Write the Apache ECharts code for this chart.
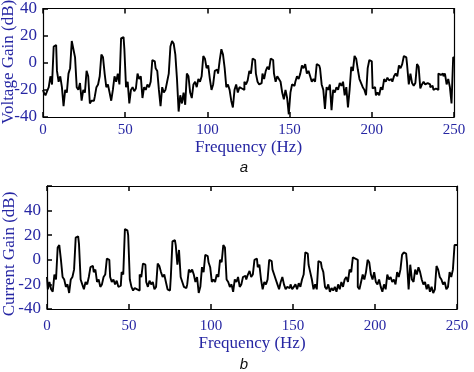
<!DOCTYPE html>
<html>
<head>
<meta charset="utf-8">
<script src="https://cdn.jsdelivr.net/npm/echarts@6/dist/echarts.min.js"></script>
<style>
html,body{margin:0;padding:0;background:#fff;}
#c{width:474px;height:372px;}
</style>
</head>
<body>
<div id="c"></div>
<script>
// Frequency axis ticks (Hz)
const freqTicks = [0, 50, 100, 150, 200, 250];
// Gain axis tick labels (dB)
const gainTicks = [-40, -20, 0, 20, 40];

// Panel a: voltage gain (dB), one value per Hz from 0 to 250
const voltageGain = [
-20,-22,-24,-21,-18,-10,-16,12,13,-6,
-14,-10,-18,-32,-20,-22,-8,-4,16,10,
4,-18,-20,-15,-28,-20,-22,-6,-10,-30,
-28,-28,-25,-18,-16,-10,6,4,-8,-18,
-16,-22,-28,-20,-10,-14,-8,-16,18,19,
10,-18,-14,-30,-20,-18,-21,-19,-8,-12,
-10,-26,-18,-20,-16,-18,-14,2,1,-4,
-6,-20,-32,-18,-22,-20,-14,-8,12,16,
14,6,-12,-36,-24,-30,-22,-31,-8,-10,
-22,-26,-16,-14,-18,-12,-14,-10,5,3,
-4,-2,-12,-20,-16,-6,-5,-8,2,10,
6,-4,-18,-16,-20,-28,-33,-20,-16,-22,
-18,-19,-20,-14,-16,-13,-6,-8,3,2,
-8,-14,-16,-15,-8,-12,-6,-3,-5,3,
2,-8,-14,-10,-12,-14,-22,-27,-20,-26,
-38,-22,-16,-17,-14,-10,-12,-8,-2,-4,
-1,-8,-6,-10,-14,-12,-14,-1,-2,-4,
-16,-20,-34,-18,-20,-16,-35,-20,-22,-18,
-20,-15,-17,-14,-24,-18,-33,-20,-3,-6,
5,3,-5,-12,-15,-18,-20,-24,-4,2,
1,-19,-18,-24,-22,-24,-18,-20,-12,-14,
-11,-13,-12,-14,-10,-8,-10,-2,-4,-1,
5,4,-2,-16,-8,-15,-17,-15,-1,-3,
-19,-16,-14,-16,-15,-16,-18,-17,-20,-19,
-20,-8,-9,-8,-10,-8,-16,-12,-18,-30,
4
];

// Panel b: current gain (dB), one value per Hz from 0 to 250
const currentGain = [
-14,-24,-18,-24,-26,-12,-16,10,12,0,
-14,-16,-22,-20,-27,-16,-14,-8,18,19,
13,-16,-20,-24,-18,-20,-14,-6,-5,-10,
-8,-18,-16,-22,-20,-14,-12,1,0,-14,
-18,-16,-20,-17,-22,-21,-10,-12,25,24,
20,-16,-22,-25,-23,-24,-25,-12,-14,-3,
-4,-18,-22,-17,-20,-18,-24,-22,-3,-5,
-10,-14,-12,-18,-24,-25,-14,15,16,12,
-4,8,-14,-18,-22,-23,-20,-8,-10,-8,
-12,-18,-14,-27,-22,-6,-10,4,3,-2,
-6,-18,-16,-18,-12,-14,0,-2,12,10,
-16,-18,-22,-20,-26,-16,-18,-14,-22,-20,
-14,-13,-16,-12,-9,-14,-12,0,1,-6,
-4,-16,-24,-18,-20,-16,0,-1,-8,-12,
-16,-20,-24,-18,-14,-20,-24,-22,-23,-20,
-24,-22,-20,-24,-19,-22,-16,-12,6,5,
-4,-10,-16,-24,-20,-24,-1,-2,-6,-10,
-22,-24,-20,-26,-23,-25,-22,-26,-20,-24,
-18,-22,-16,-14,-18,-8,-10,2,1,0,
-22,-24,-18,-12,-16,-10,0,-2,-12,-16,
-10,-18,-20,-16,-22,-26,-20,-24,-12,-16,
-14,-18,-16,-20,-10,-14,-8,4,6,5,
-2,-24,-4,-16,-18,-8,-12,-6,-10,-16,
-20,-18,-24,-20,-26,-22,-27,-24,-5,-8,
-14,-16,-20,-18,-24,-22,-10,-14,-8,12,
12
];

const BLUE = '#2626a3';
const SERIF = '"Liberation Serif","DejaVu Serif",serif';

function pairs(arr){ return arr.map((v,i)=>[i,v]); }

const grids = [
  {left:43, top:5, width:411, height:112},
  {left:47, top:186, width:410, height:123}
];

function xMain(gi, margin, gap){
  return {
    type:'value', gridIndex:gi, position:'bottom',
    min:freqTicks[0], max:freqTicks[freqTicks.length-1], interval:50,
    axisLine:{show:true, onZero:false, lineStyle:{color:'#000', width:1.2}},
    axisTick:{show:true, inside:true, length:5, lineStyle:{color:'#000', width:1.5}},
    axisLabel:{color:BLUE, fontFamily:SERIF, fontSize:15, margin:margin},
    splitLine:{show:false},
    name:'Frequency (Hz)', nameLocation:'middle', nameGap:gap,
    nameTextStyle:{color:BLUE, fontFamily:SERIF, fontSize:17}
  };
}
function xTop(gi){
  return {
    type:'value', gridIndex:gi, position:'top',
    min:0, max:250, interval:50,
    axisLine:{show:true, onZero:false, lineStyle:{color:'#000', width:1.2}},
    axisTick:{show:true, inside:true, length:5, lineStyle:{color:'#000', width:1.5}},
    axisLabel:{show:false}, splitLine:{show:false}
  };
}
function yMain(gi, min, max){
  return {
    type:'value', gridIndex:gi, position:'left',
    min:min, max:max, interval:20,
    axisLine:{show:true, onZero:false, lineStyle:{color:'#000', width:1.2}},
    axisTick:{show:true, inside:true, length:5, lineStyle:{color:'#000', width:1.5}},
    axisLabel:{color:BLUE, fontFamily:SERIF, fontSize:17, margin:6,
      formatter:function(v){ return gainTicks.indexOf(v) >= 0 ? String(v) : ''; }},
    splitLine:{show:false}
  };
}
function yRight(gi, min, max){
  return {
    type:'value', gridIndex:gi, position:'right',
    min:min, max:max, interval:20,
    axisLine:{show:true, onZero:false, lineStyle:{color:'#000', width:1.2}},
    axisTick:{show:false}, axisLabel:{show:false}, splitLine:{show:false}
  };
}

const chart = echarts.init(document.getElementById('c'), null, {renderer:'canvas'});
chart.setOption({
  animation:false,
  backgroundColor:'#fff',
  grid:grids,
  xAxis:[xMain(0,6,20), xTop(0), xMain(1,10,26), xTop(1)],
  yAxis:[yMain(0,-40,40), yRight(0,-40,40), yMain(1,-40,60), yRight(1,-40,60)],
  series:[
    {type:'line', xAxisIndex:0, yAxisIndex:0, data:pairs(voltageGain), step:'middle',
     showSymbol:false, lineStyle:{color:'#000', width:1.9}},
    {type:'line', xAxisIndex:2, yAxisIndex:2, data:pairs(currentGain), step:'middle',
     showSymbol:false, lineStyle:{color:'#000', width:1.9}}
  ],
  graphic:[
    {type:'text', x:9, y:62, rotation:Math.PI/2,
     style:{text:'Voltage Gain (dB)', fill:BLUE, font:'17px ' + SERIF, textAlign:'center', textVerticalAlign:'middle'}},
    {type:'text', x:10, y:254, rotation:Math.PI/2,
     style:{text:'Current Gain (dB)', fill:BLUE, font:'17px ' + SERIF, textAlign:'center', textVerticalAlign:'middle'}},
    {type:'text', x:244, y:168,
     style:{text:'a', fill:'#111', font:'italic 15px "Liberation Sans",Arial,sans-serif', textAlign:'center', textVerticalAlign:'middle'}},
    {type:'text', x:244, y:365,
     style:{text:'b', fill:'#111', font:'italic 15px "Liberation Sans",Arial,sans-serif', textAlign:'center', textVerticalAlign:'middle'}}
  ]
});
</script>
</body>
</html>
